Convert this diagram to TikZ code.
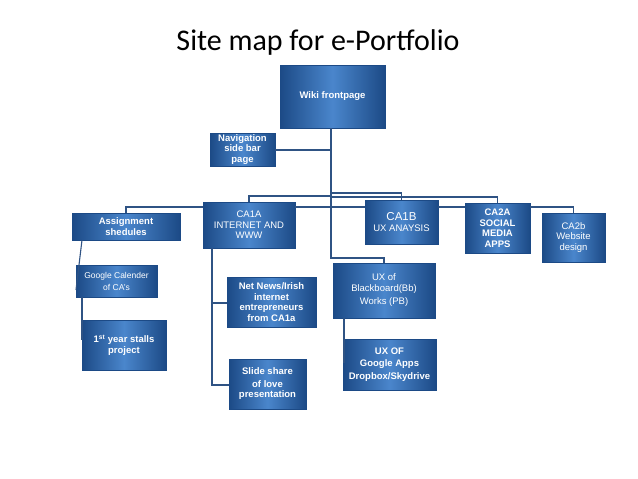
\documentclass[tikz,border=0pt]{standalone}
\usepackage{fontspec}
\setmainfont{Liberation Sans}
\newfontfamily\titlefont{Carlito}
\definecolor{bx}{HTML}{2E6CB5}
\definecolor{bxd}{HTML}{1C4A86}
\definecolor{bxl}{HTML}{4A86CC}
\definecolor{ln}{HTML}{2F5384}
\begin{document}
\begin{tikzpicture}[x=1pt,y=-1pt,
  bx/.style={draw=bxd,line width=0.8pt,left color=bxd,right color=bxd,middle color=bxl,text=white,align=center,font=\fontsize{9.5}{10.5}\selectfont,inner sep=1pt},
  bb/.style={bx,font=\bfseries\fontsize{9.5}{10.5}\selectfont},
  bs/.style={bx,font=\fontsize{8.5}{12}\selectfont},
  cn/.style={draw=ln,line width=1.1pt}]
\useasboundingbox (0,0) rectangle (638,479);
\node[font=\titlefont\fontsize{30}{34}\selectfont] (title) at (318,43) {Site map for e-Portfolio};
\newcommand{\bxn}[6]{\node[#1,minimum width=#4-#2,minimum height=#5-#3] (#6) at ({(#2+#4)/2},{(#3+#5)/2})}
\bxn{bb}{280}{65}{385}{128}{wiki} {Wiki frontpage};
\bxn{bb}{210}{133}{275}{166}{nav} {Navigation\\side bar\\page};
\bxn{bb}{72}{213}{180}{240}{asg} {Assignment\\shedules};
\bxn{bx}{203}{202}{295}{248}{caA} {CA1A\\INTERNET AND\\WWW};
\bxn{bx}{365}{200}{438}{244}{caB} {\fontsize{11.5}{17}\selectfont CA1B\\UX ANAYSIS};
\bxn{bb}{465}{203}{530}{253}{cc} {CA2A\\SOCIAL\\MEDIA\\APPS};
\bxn{bx}{542}{213}{605}{262}{cd} {CA2b\\Website\\design};
\bxn{bs}{76}{265}{157}{297}{gc} {Google Calender\\of CA's};
\bxn{bb}{82}{320}{166}{370}{fy} {1\textsuperscript{st} year stalls\\project};
\bxn{bb}{227}{277}{316}{327}{nn} {Net News/Irish\\internet\\entrepreneurs\\from CA1a};
\bxn{bb}{229}{359}{306}{409}{ss} {Slide share\\[2pt]of love\\presentation};
\bxn{bx}{333}{263}{435}{318}{ux} {UX of\\Blackboard(Bb)\\[3pt]Works (PB)};
\bxn{bb}{343}{339}{436}{390}{ug} {UX OF\\[2pt]Google Apps\\[2pt]Dropbox/Skydrive};
\coordinate (t1) at (331,128);
\draw[cn] (t1) -- (331,258) -| (ux.north);
\draw[cn] (nav.east |- 0,150) -- (331,150);
\draw[cn] (331,193) -| (caB.north);
\draw[cn] (331,197) -| (cc.north);
\draw[cn] (331,196) -| (caA.north);
\draw[cn] (caA.west |- 0,207) -| (asg.north);
\draw[cn] (caA.east |- 0,207) -- (caB.west |- 0,207);
\draw[cn] (caB.east |- 0,207) -- (cc.west |- 0,207);
\draw[cn] (cc.east |- 0,207) -| (cd.north);
\draw[cn] (212,248) -- (212,385) -- (ss.west |- 0,385);
\draw[cn] (212,303) -- (nn.west |- 0,303);
\draw[cn] (82,240) -- (76,290);
\draw[cn] (82,297) -- (82,340);
\draw[cn] (344,318) -- (344,363);
\end{tikzpicture}
\end{document}
